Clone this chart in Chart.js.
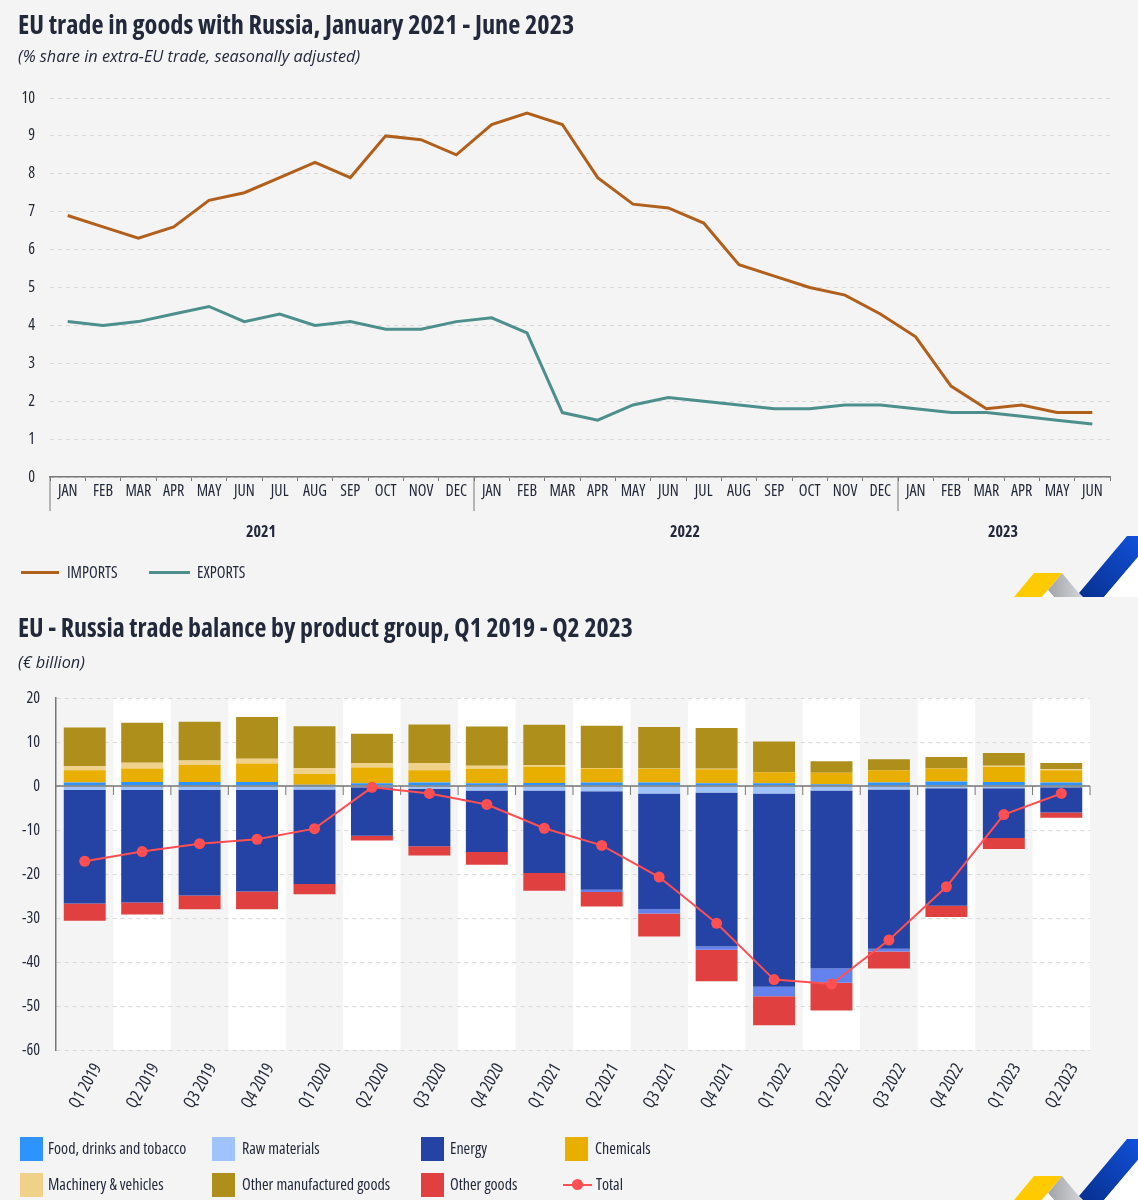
<!DOCTYPE html>
<html>
<head>
<meta charset="utf-8">
<script src="https://cdn.jsdelivr.net/npm/chart.js@4"></script>
<style>
	html, body { margin: 0; padding: 0; background: #f4f4f4; }
	body { position: relative; width: 1138px; height: 1200px; overflow: hidden; font-family: 'Open Sans', sans-serif; font-stretch: 75%; color: #22293a; }
	canvas { position: absolute; left: 0; }
	.title { position: absolute; left: 18px; font-weight: 700; white-space: nowrap; line-height: 32px; }
	.sub { position: absolute; left: 18px; font-size: 16.3px; font-style: italic; font-stretch: 100%; white-space: nowrap; line-height: 20px; }
	.leg { position: absolute; font-size: 16px; line-height: 20px; white-space: nowrap; }
	.sw { position: absolute; }
	svg.logo { position: absolute; left: 0; width: 1138px; height: 100px; }
</style>
</head>
<body>
<canvas id="tradeShare" width="1138" height="600" style="top:0"></canvas>
<canvas id="tradeBalance" width="1138" height="600" style="top:600px"></canvas>

<div class="title" style="top:8px;font-size:26.3px">EU trade in goods with Russia, January 2021 - June 2023</div>
<div class="sub" style="top:46px">(% share in extra-EU trade, seasonally adjusted)</div>
<div class="title" style="top:611px;font-size:25.9px">EU - Russia trade balance by product group, Q1 2019 - Q2 2023</div>
<div class="sub" style="top:652px">(€ billion)</div>

<svg class="logo" style="top:520px" viewBox="0 520 1138 100" id="logo1"></svg>
<svg class="logo" style="top:1123px" viewBox="0 520 1138 100" id="logo2"></svg>

<script>
// top chart
const months = ['JAN','FEB','MAR','APR','MAY','JUN','JUL','AUG','SEP','OCT','NOV','DEC','JAN','FEB','MAR','APR','MAY','JUN','JUL','AUG','SEP','OCT','NOV','DEC','JAN','FEB','MAR','APR','MAY','JUN'];
const years = ['2021', '2022', '2023'];
const yearSpans = [12, 12, 6];
const imports = [6.9,6.6,6.3,6.6,7.3,7.5,7.9,8.3,7.9,9.0,8.9,8.5,9.3,9.6,9.3,7.9,7.2,7.1,6.7,5.6,5.3,5.0,4.8,4.3,3.7,2.4,1.8,1.9,1.7,1.7];
const exports_ = [4.1,4.0,4.1,4.3,4.5,4.1,4.3,4.0,4.1,3.9,3.9,4.1,4.2,3.8,1.7,1.5,1.9,2.1,2.0,1.9,1.8,1.8,1.9,1.9,1.8,1.7,1.7,1.6,1.5,1.4];

// bottom chart
const quarters = ['Q1 2019','Q2 2019','Q3 2019','Q4 2019','Q1 2020','Q2 2020','Q3 2020','Q4 2020','Q1 2021','Q2 2021','Q3 2021','Q4 2021','Q1 2022','Q2 2022','Q3 2022','Q4 2022','Q1 2023','Q2 2023'];
const food = [0.8,0.9,0.9,0.9,0.3,0.6,0.8,0.6,0.7,0.8,0.8,0.6,0.6,0.4,0.8,1.0,0.9,0.8];
const rawMaterials = [-0.9,-0.9,-0.9,-0.9,-0.8,-0.3,-0.6,-1.0,-1.0,-1.2,-1.7,-1.5,-1.7,-1.0,-0.8,-0.5,-0.5,-0.3];
const energy = [-25.8,-25.6,-24.0,-23.1,-21.5,-11.0,-13.1,-14.0,-18.8,-22.4,-26.3,-35.0,-43.9,-40.5,-36.2,-26.7,-11.3,-5.7];
const foodLower = [0,0,0,0,0,0,0,0,0,-0.5,-1.0,-0.7,-2.2,-3.2,-0.6,0,0,0];
const chemicals = [2.8,3.1,3.9,4.2,2.4,3.6,2.8,3.3,3.7,3.2,3.1,3.2,2.5,2.6,2.8,3.0,3.4,2.8];
const machinery = [0.9,1.3,1.0,1.1,1.4,1.0,1.6,0.7,0.4,0.1,0.1,0.1,0,0,0,0,0.3,0.2];
const otherManufactured = [8.8,9.1,8.8,9.5,9.5,6.7,8.8,8.9,9.1,9.6,9.4,9.3,7.0,2.6,2.5,2.6,2.9,1.4];
const otherGoods = [-3.9,-2.7,-3.1,-4.0,-2.3,-1.1,-2.1,-2.9,-4.0,-3.3,-5.2,-7.2,-6.6,-6.3,-3.9,-2.6,-2.5,-1.2];
const total = [-17.1,-14.9,-13.1,-12.1,-9.7,-0.3,-1.7,-4.2,-9.6,-13.5,-20.7,-31.2,-44,-45,-35,-22.9,-6.5,-1.7];

const ink = '#22293a';
const axisGrey = '#777';
const dashGrey = '#d8d8d8';
const fontName = "'Open Sans', sans-serif";

Chart.defaults.font.family = fontName;
Chart.defaults.color = ink;

// the width keyword goes into the font string through the weight slot
const condensed = 'extra-condensed';
const semiCondensed = 'semi-condensed';

const yearMarks = {
	id: 'yearMarks',
	afterDraw(chart) {
		const { ctx } = chart;
		const x = chart.scales.x;
		const step = x.getPixelForValue(1) - x.getPixelForValue(0);
		let start = 0;
		ctx.save();
		ctx.font = 'bold extra-condensed 16px ' + fontName;
		ctx.textAlign = 'center';
		ctx.textBaseline = 'middle';
		years.forEach((year, i) => {
			const left = x.getPixelForValue(start) - step / 2;
			ctx.strokeStyle = axisGrey;
			ctx.lineWidth = 1;
			ctx.beginPath();
			ctx.moveTo(left, chart.chartArea.bottom);
			ctx.lineTo(left, 511);
			ctx.stroke();
			ctx.fillStyle = ink;
			ctx.fillText(year, left + step * yearSpans[i] / 2 - 1, 532);
			start += yearSpans[i];
		});
		ctx.restore();
	}
};

new Chart(document.getElementById('tradeShare'), {
	type: 'line',
	data: {
		labels: months,
		datasets: [
			{ label: 'IMPORTS', data: imports, borderColor: '#b0601c', borderWidth: 3, pointRadius: 0, tension: 0 },
			{ label: 'EXPORTS', data: exports_, borderColor: '#4d8f8c', borderWidth: 3, pointRadius: 0, tension: 0 },
		],
	},
	options: {
		responsive: false,
		animation: false,
		layout: { autoPadding: false, padding: { top: 98, right: 28, bottom: 23, left: 0 } },
		plugins: { legend: { display: false }, tooltip: { enabled: false } },
		scales: {
			x: {
				offset: true,
				afterFit: (s) => { s.height = 100; },
				border: { color: axisGrey, width: 1.5 },
				grid: { offset: true, drawOnChartArea: false, tickLength: 4, color: axisGrey },
				ticks: { autoSkip: false, maxRotation: 0, padding: 1, font: { size: 16, weight: condensed } },
			},
			y: {
				min: 0,
				max: 10,
				afterFit: (s) => { s.width = 50; },
				border: { display: false, dash: [4, 4] },
				grid: { color: dashGrey, drawTicks: false },
				ticks: { stepSize: 1, padding: 15, font: { size: 16, weight: semiCondensed } },
			},
		},
	},
	plugins: [yearMarks],
});

const quarterBands = {
	id: 'quarterBands',
	beforeDraw(chart) {
		const { ctx, chartArea } = chart;
		const x = chart.scales.x;
		const step = x.getPixelForValue(1) - x.getPixelForValue(0);
		ctx.save();
		ctx.fillStyle = '#ffffff';
		quarters.forEach((q, i) => {
			if (i % 2 === 1) {
				ctx.fillRect(x.getPixelForValue(i) - step / 2, chartArea.top, step, chartArea.height);
			}
		});
		ctx.restore();
	},
	// runs after the last bar set, before the Total line
	afterDatasetDraw(chart, args) {
		if (args.index !== 0) return;
		const { ctx, chartArea } = chart;
		const x = chart.scales.x;
		const zero = chart.scales.y.getPixelForValue(0);
		const step = x.getPixelForValue(1) - x.getPixelForValue(0);
		ctx.save();
		ctx.strokeStyle = axisGrey;
		ctx.lineWidth = 1.5;
		ctx.beginPath();
		ctx.moveTo(chartArea.left, zero);
		ctx.lineTo(chartArea.right, zero);
		ctx.stroke();
		ctx.lineWidth = 1;
		quarters.forEach((q, i) => {
			const tick = x.getPixelForValue(i) + step / 2;
			ctx.beginPath();
			ctx.moveTo(tick, zero);
			ctx.lineTo(tick, zero + 9);
			ctx.stroke();
		});
		ctx.restore();
	}
};

function barSet(label, data, color) {
	return {
		type: 'bar', label, data,
		backgroundColor: color,
		borderWidth: 0,
		stack: 'balance',
		categoryPercentage: 0.73,
		barPercentage: 1,
	};
}

new Chart(document.getElementById('tradeBalance'), {
	data: {
		labels: quarters,
		datasets: [
			barSet('Food, drinks and tobacco', food, '#2e92ff'),
			barSet('Raw materials', rawMaterials, '#a0c3fc'),
			barSet('Energy', energy, '#2542a5'),
			barSet('Food, drinks and tobacco (lower)', foodLower, '#6482ee'),
			barSet('Chemicals', chemicals, '#e8ae00'),
			barSet('Machinery & vehicles', machinery, '#f0d18a'),
			barSet('Other manufactured goods', otherManufactured, '#ae8f1c'),
			barSet('Other goods', otherGoods, '#e04040'),
			{
				type: 'line', label: 'Total', data: total, order: -1,
				borderColor: '#ff4f52', backgroundColor: '#ff4f52', borderWidth: 2,
				pointRadius: 5.5, pointBackgroundColor: '#ff4f52', pointBorderWidth: 0, tension: 0,
			},
		],
	},
	options: {
		responsive: false,
		animation: false,
		layout: { autoPadding: false, padding: { top: 98, right: 48, bottom: 70, left: 0 } },
		plugins: { legend: { display: false }, tooltip: { enabled: false } },
		scales: {
			x: {
				stacked: true,
				afterFit: (s) => { s.height = 80; },
				border: { display: false },
				grid: { display: false },
				ticks: { autoSkip: false, minRotation: 60, maxRotation: 60, padding: 2, labelOffset: 13, font: { size: 17, weight: semiCondensed } },
			},
			y: {
				stacked: true,
				min: -60,
				max: 20,
				afterFit: (s) => { s.width = 56; },
				border: { color: axisGrey, width: 1.5, dash: [4, 4] },
				grid: { color: dashGrey, drawTicks: false },
				ticks: { stepSize: 10, padding: 16, font: { size: 16, weight: semiCondensed } },
			},
		},
	},
	plugins: [quarterBands],
});

// legends
const topLegend = [
	{ text: 'IMPORTS', color: '#b0601c', lineX: 21, lineW: 38, textX: 67 },
	{ text: 'EXPORTS', color: '#4d8f8c', lineX: 149, lineW: 41, textX: 197 },
];
const bottomLegend = [
	{ text: 'Food, drinks and tobacco', color: '#2e92ff', x: 20, y: 1137, textX: 48 },
	{ text: 'Raw materials', color: '#a0c3fc', x: 212, y: 1137, textX: 242 },
	{ text: 'Energy', color: '#2542a5', x: 421, y: 1137, textX: 450 },
	{ text: 'Chemicals', color: '#e8ae00', x: 565, y: 1137, textX: 595 },
	{ text: 'Machinery & vehicles', color: '#f0d18a', x: 20, y: 1173, textX: 48 },
	{ text: 'Other manufactured goods', color: '#ae8f1c', x: 212, y: 1173, textX: 242 },
	{ text: 'Other goods', color: '#e04040', x: 421, y: 1173, textX: 450 },
];

function addBox(cls, css, text) {
	const el = document.createElement('div');
	el.className = cls;
	el.style.cssText = css;
	if (text) el.textContent = text;
	document.body.appendChild(el);
}

topLegend.forEach((l) => {
	addBox('sw', `left:${l.lineX}px;top:571px;width:${l.lineW}px;height:3px;background:${l.color}`);
	addBox('leg', `left:${l.textX}px;top:562px`, l.text);
});
bottomLegend.forEach((l) => {
	addBox('sw', `left:${l.x}px;top:${l.y}px;width:23px;height:24px;background:${l.color}`);
	addBox('leg', `left:${l.textX}px;top:${l.y + 1}px`, l.text);
});
addBox('sw', 'left:563px;top:1184px;width:29px;height:2px;background:#ff4f52');
addBox('sw', 'left:572px;top:1179px;width:11px;height:11px;border-radius:50%;background:#ff4f52');
addBox('leg', 'left:596px;top:1174px', 'Total');

// corner logo
const logoMarkup = `
	<defs>
		<linearGradient id="greyGrad" x1="0" x2="1"><stop offset="0" stop-color="#a2a3a8"/><stop offset="1" stop-color="#d4d5d8"/></linearGradient>
		<linearGradient id="blueGrad" x1="0" y1="1" x2="1" y2="0"><stop offset="0" stop-color="#07308f"/><stop offset="1" stop-color="#1150d8"/></linearGradient>
	</defs>
	<polygon points="1048,590 1062,573 1082,597 1054,597" fill="url(#greyGrad)"/>
	<polygon points="1014,597 1034,573 1062,573 1042,597" fill="#ffcb00"/>
	<polygon points="1042,597 1048,590 1054,597" fill="#fff"/>
	<polygon points="1079,593 1127,536 1138,536 1138,557 1104,597 1083,597" fill="url(#blueGrad)"/>
	<polygon points="1104,597 1138,557 1138,597" fill="#fff"/>`;
document.getElementById('logo1').innerHTML = logoMarkup;
document.getElementById('logo2').innerHTML = logoMarkup;
</script>
</body>
</html>
